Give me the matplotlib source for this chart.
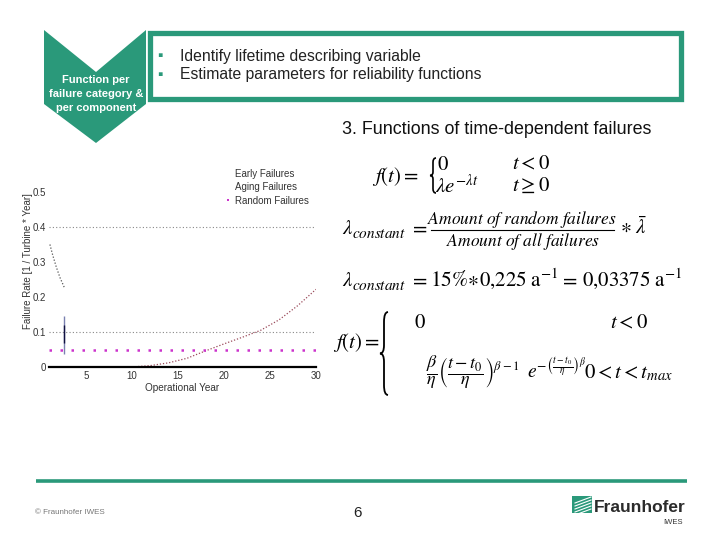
import matplotlib
matplotlib.use("Agg")
import matplotlib.pyplot as plt
from matplotlib.patches import Polygon, Rectangle, PathPatch
from matplotlib.path import Path
from matplotlib.lines import Line2D

plt.rcParams['font.family'] = ['Liberation Sans', 'DejaVu Sans']
plt.rcParams['mathtext.fontset'] = 'stix'

# ---------------- data ----------------
early_years = [1.1, 1.4, 1.8, 2.2, 2.65]
early_rate = [0.35, 0.32, 0.285, 0.255, 0.228]

aging_years = [10, 12, 14, 16, 18, 20, 22, 24, 26, 28, 30]
aging_rate = [0.0, 0.004, 0.012, 0.025, 0.046, 0.066, 0.085, 0.105, 0.135, 0.175, 0.222]

random_years = list(range(1, 31))
random_rate = [0.05] * 30

bar_x = 2.65
bar_low, bar_high = 0.038, 0.145
bar_dark_low, bar_dark_high = 0.07, 0.12

x_ticks = [5, 10, 15, 20, 25, 30]
y_ticks = [0, 0.1, 0.2, 0.3, 0.4, 0.5]
y_tick_labels = ['0', '0.1', '0.2', '0.3', '0.4', '0.5']
grid_levels = [0.1, 0.4]

legend_labels = ['Early Failures', 'Aging Failures', 'Random Failures']

bullets = ['Identify lifetime describing variable',
           'Estimate parameters for reliability functions']
chevron_text = 'Function per\nfailure category &\nper component'
subtitle = '3. Functions of time-dependent failures'

GREEN = '#2a997a'

fig = plt.figure(figsize=(7.2, 5.4), dpi=100)

bg = fig.add_axes([0, 0, 1, 1])
bg.set_xlim(0, 720)
bg.set_ylim(540, 0)
bg.axis('off')


def brace(x, y0, y1, w, lw=1.2):
    h = y1 - y0
    ym = (y0 + y1) / 2
    xm = x + w * 0.5
    verts = [(x + w, y0),
             (xm, y0), (xm, y0 + 0.12 * h),
             (xm, ym - 0.1 * h),
             (xm, ym), (x, ym),
             (xm, ym), (xm, ym + 0.1 * h),
             (xm, y1 - 0.12 * h),
             (xm, y1), (x + w, y1)]
    codes = [Path.MOVETO,
             Path.CURVE3, Path.CURVE3,
             Path.LINETO,
             Path.CURVE3, Path.CURVE3,
             Path.CURVE3, Path.CURVE3,
             Path.LINETO,
             Path.CURVE3, Path.CURVE3]
    bg.add_patch(PathPatch(Path(verts, codes), facecolor='none', edgecolor='black', lw=lw))


# chevron
chev = Polygon([(44, 30), (96, 72), (146, 30), (146, 104), (96, 143), (44, 104)],
               closed=True, facecolor=GREEN, edgecolor='none')
bg.add_patch(chev)
bg.text(96, 94, chevron_text, color='white', fontsize=8, fontweight='bold',
        ha='center', va='center', linespacing=1.45)

# box
bg.add_patch(Rectangle((149.5, 32.5), 531, 66, facecolor='none', edgecolor=GREEN, lw=3.8))
for i, b in enumerate(bullets):
    y = 56 + i * 19
    bg.text(157, y, '\u25aa', color=GREEN, fontsize=11, va='center', ha='left')
    bg.text(180, y, b, color='#222222', fontsize=11.3, va='center', ha='left')

bg.text(342, 129, subtitle, color='#111111', fontsize=12.9, va='center', ha='left')

# formulas
fs = 15
# line 1
bg.text(372, 176, r'$f(t)=$', fontsize=fs, va='center', ha='left')
brace(430, 158, 193, 6)
bg.text(437, 164, r'$0$', fontsize=fs, va='center', ha='left')
bg.text(435, 185, r'$\lambda e^{-\lambda t}$', fontsize=fs, va='center', ha='left')
bg.text(512, 164, r'$t<0$', fontsize=fs, va='center', ha='left')
bg.text(512, 185, r'$t\geq 0$', fontsize=fs, va='center', ha='left')

# line 2
bg.text(342, 234, r'$\lambda$', fontsize=fs, va='baseline', ha='left')
bg.text(352, 238, r'$constant$', fontsize=11, va='baseline', ha='left')
bg.text(409, 234, r'$=$', fontsize=fs, va='baseline', ha='left')
bg.text(522, 220, r'$Amount\ of\ random\ failures$', fontsize=12.5, va='center', ha='center')
bg.plot([431, 614], [230, 230], color='black', lw=0.8)
bg.text(523, 241, r'$Amount\ of\ all\ failures$', fontsize=12.5, va='center', ha='center')
bg.text(620, 234, r'$\ast\ \bar{\lambda}$', fontsize=fs, va='baseline', ha='left')

# line 3
bg.text(342, 286, r'$\lambda$', fontsize=fs, va='baseline', ha='left')
bg.text(352, 290, r'$constant$', fontsize=11, va='baseline', ha='left')
bg.text(409, 286, r'$=$', fontsize=fs, va='baseline', ha='left')
bg.text(430, 286, r'$\mathrm{15\%}$', fontsize=15.5, va='baseline', ha='left')
bg.text(467, 286, r'$\ast$', fontsize=fs, va='baseline', ha='left')
bg.text(479, 286, r'$\mathrm{0{,}225\ a^{-1}}$', fontsize=15, va='baseline', ha='left')
bg.text(559, 286, r'$=$', fontsize=fs, va='baseline', ha='left')
bg.text(582, 286, r'$\mathrm{0{,}03375\ a^{-1}}$', fontsize=15, va='baseline', ha='left')

# line 4
bg.text(333, 348, r'$f(t)=$', fontsize=fs, va='baseline', ha='left')
brace(380, 312, 395, 8, lw=1.3)
bg.text(414, 323, r'$0$', fontsize=fs, va='center', ha='left')
bg.text(610, 323, r'$t<0$', fontsize=fs, va='center', ha='left')
bg.text(426, 378, r'$\dfrac{\beta}{\eta}\left(\dfrac{t-t_0}{\eta}\right)^{\beta-1}$',
        fontsize=13, va='baseline', ha='left')
bg.text(527, 378, r'$e^{-\left(\frac{t-t_0}{\eta}\right)^{\beta}}$',
        fontsize=14, va='baseline', ha='left')
bg.text(584, 378, r'$0<t<t_{max}$', fontsize=fs, va='baseline', ha='left')

# footer
bg.plot([36, 687], [481, 481], color=GREEN, lw=2.6, solid_capstyle='butt')
bg.text(35, 513, '\u00a9 Fraunhofer IWES', fontsize=5.8, color='#777777', va='center', ha='left')
bg.text(358, 513, '6', fontsize=11, color='#222222', va='center', ha='center')
bg.add_patch(Rectangle((572, 496), 20, 17, facecolor=GREEN, edgecolor='none'))
for k in range(5):
    yy = 499 + k * 3
    bg.plot([575, 591], [yy + 4, yy - 2], color='white', lw=0.8)
bg.text(594, 507, 'Fraunhofer', fontsize=12.5, fontweight='bold', color='#2b2b2b',
        va='center', ha='left')
bg.text(683, 522, 'IWES', fontsize=5.5, color='#333333', va='center', ha='right')

# ---------------- chart ----------------
ax = fig.add_axes([49 / 720, 1 - 367 / 540, (316 - 49) / 720, 182 / 540])
ax.set_xlim(1, 30)
ax.set_ylim(0, 0.52)
ax.patch.set_alpha(0)

for g in grid_levels:
    ax.axhline(g, color='#888888', lw=0.8, ls=(0, (1, 2)), zorder=1)

ax.plot(early_years, early_rate, color='#555555', lw=0.9, ls=(0, (1, 1.5)))
ax.plot(aging_years, aging_rate, color='#9a4a5a', lw=0.9, ls=(0, (1, 1.5)))
ax.plot(random_years, random_rate, color='#cc33cc', lw=1.8, ls=(0, (1, 3.4)),
        dash_capstyle='butt')
ax.vlines(bar_x, bar_low, bar_high, color='#7a80b0', lw=1.0)
ax.vlines(bar_x, bar_dark_low, bar_dark_high, color='#101040', lw=1.0)

for s in ['left', 'top', 'right']:
    ax.spines[s].set_visible(False)
ax.spines['bottom'].set_linewidth(1.6)
ax.spines['bottom'].set_color('black')

ax.set_xticks(x_ticks)
ax.set_yticks(y_ticks)
ax.set_yticklabels(y_tick_labels)
ax.tick_params(axis='x', length=0, labelsize=7, labelcolor='#333333', pad=3)
ax.tick_params(axis='y', length=0, labelsize=7, labelcolor='#333333', pad=2)
ax.set_xlabel('Operational Year', fontsize=7.2, color='#333333', labelpad=1)
ax.set_ylabel('Failure Rate [1 / Turbine * Year]', fontsize=7, color='#333333')
ax.yaxis.set_label_coords(-0.06, 0.58)

h1 = Line2D([], [], color='none')
h3 = Line2D([], [], color='#cc33cc', ls='none', marker='s', ms=2, mew=0)
leg = fig.legend([h1, h1, h3], legend_labels, loc='upper right',
                 bbox_to_anchor=(314 / 720, 1 - 164 / 540), frameon=False,
                 fontsize=7, handlelength=0.6, handletextpad=0.4, labelspacing=0.35,
                 borderpad=0)
for t in leg.get_texts():
    t.set_color('#333333')

fig.savefig('out.png', dpi=100)
